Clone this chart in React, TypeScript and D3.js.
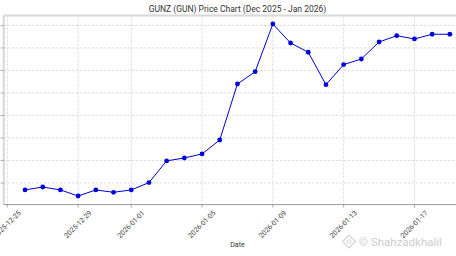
import React from "react";
import * as d3 from "d3";

const dates: string[] = [
  "2025-12-26", "2025-12-27", "2025-12-28", "2025-12-29", "2025-12-30", "2025-12-31",
  "2026-01-01", "2026-01-02", "2026-01-03", "2026-01-04", "2026-01-05", "2026-01-06",
  "2026-01-07", "2026-01-08", "2026-01-09", "2026-01-10", "2026-01-11", "2026-01-12",
  "2026-01-13", "2026-01-14", "2026-01-15", "2026-01-16", "2026-01-17", "2026-01-18",
  "2026-01-19",
];
const prices: number[] = [
  0.00938, 0.00964, 0.00938, 0.00884, 0.00938, 0.00917,
  0.00938, 0.01003, 0.01196, 0.01222, 0.01258, 0.01382,
  0.01880, 0.01989, 0.02413, 0.02244, 0.02162, 0.01874,
  0.02052, 0.02102, 0.02253, 0.02309, 0.02280, 0.02322,
  0.02322,
];
const xTickLabels: string[] = [
  "2025-12-25", "2025-12-29", "2026-01-01", "2026-01-05", "2026-01-09", "2026-01-13", "2026-01-17",
];
const yTickValues: number[] = [0.010, 0.012, 0.014, 0.016, 0.018, 0.020, 0.022, 0.024];

const W = 456;
const H = 256;
const plotLeft = 3.8;
const plotRight = 471.1;
const plotTop = 15.4;
const plotBottom = 204.6;
const FONT = "Roboto, 'Liberation Sans', sans-serif";

const parse = (s: string) => new Date(s + "T00:00:00Z");

export default function App() {
  const data = dates.map((d, i) => ({ date: parse(d), value: prices[i] }));
  const t0 = data[0].date.getTime();
  const t1 = data[data.length - 1].date.getTime();
  const xPad = (t1 - t0) * 0.05;
  const x = d3
    .scaleUtc()
    .domain([new Date(t0 - xPad), new Date(t1 + xPad)])
    .range([plotLeft, plotRight]);
  const [vmin, vmax] = d3.extent(prices) as [number, number];
  const yPad = (vmax - vmin) * 0.05;
  const y = d3.scaleLinear().domain([vmin - yPad, vmax + yPad]).range([plotBottom, plotTop]);

  const line = d3
    .line<{ date: Date; value: number }>()
    .x((d) => x(d.date))
    .y((d) => y(d.value));

  const xTicks = xTickLabels.map((s) => ({ label: s, pos: x(parse(s)) }));

  return (
    <svg width={W} height={H} style={{ position: "absolute", left: 0, top: 0, background: "#fff" }}>
      <rect x={0} y={0} width={W} height={H} fill="#fff" />
      {/* grid */}
      {yTickValues.map((v) => (
        <line key={"gy" + v} x1={plotLeft} x2={W} y1={y(v)} y2={y(v)} stroke="#d4d4d4" strokeWidth={0.8} strokeDasharray="2.5,1.5" />
      ))}
      {xTicks.map((t) => (
        <line key={"gx" + t.label} x1={t.pos} x2={t.pos} y1={plotTop} y2={plotBottom} stroke="#d4d4d4" strokeWidth={0.8} strokeDasharray="2.5,1.5" />
      ))}
      {/* spines */}
      <line x1={plotLeft} x2={W} y1={plotTop} y2={plotTop} stroke="#d8d8d8" strokeWidth={2} />
      <line x1={plotLeft} x2={plotLeft} y1={plotTop} y2={plotBottom} stroke="#d8d8d8" strokeWidth={2} />
      <line x1={plotLeft} x2={W} y1={plotBottom} y2={plotBottom} stroke="#9a9a9a" strokeWidth={1} />
      {/* y tick marks (labels lie outside the cropped picture) */}
      {yTickValues.map((v) => (
        <line key={"ty" + v} x1={0.5} x2={plotLeft} y1={y(v)} y2={y(v)} stroke="#9a9a9a" strokeWidth={0.8} />
      ))}
      {/* x ticks */}
      {xTicks.map((t) => (
        <g key={"tx" + t.label}>
          <line x1={t.pos} x2={t.pos} y1={plotBottom} y2={plotBottom + 3} stroke="#9a9a9a" strokeWidth={0.8} />
          <text
            x={t.pos}
            y={224.5}
            textAnchor="middle"
            dominantBaseline="central"
            transform={`rotate(-45 ${t.pos} 224.5)`}
            fontSize={7}
            fontFamily={FONT}
            fill="#444"
          >
            {t.label}
          </text>
        </g>
      ))}
      {/* line */}
      <path d={line(data) || ""} fill="none" stroke="#0000cc" strokeWidth={1} />
      {data.map((d, i) => (
        <circle key={"p" + i} cx={x(d.date)} cy={y(d.value)} r={2.4} fill="#0000dd" />
      ))}
      {/* title */}
      <text x={(plotLeft + plotRight) / 2} y={12} textAnchor="middle" fontSize={8.5} fontFamily={FONT} fill="#333">
        GUNZ (GUN) Price Chart (Dec 2025 - Jan 2026)
      </text>
      <text x={(plotLeft + plotRight) / 2} y={247} textAnchor="middle" fontSize={7} fontFamily={FONT} fill="#333">
        Date
      </text>
      {/* watermark */}
      <g opacity={0.9}>
        <path d="M349 235 L355.5 241.5 L349 248 L342.5 241.5 Z" fill="none" stroke="#d0d0d0" strokeWidth={1.2} />
        <circle cx={349} cy={241.5} r={1.8} fill="none" stroke="#d0d0d0" strokeWidth={1} />
        <text x={359} y={246} fontSize={11.5} fontFamily={FONT} fill="#c8c8c8">
          © Shahzadkhalil
        </text>
      </g>
    </svg>
  );
}
